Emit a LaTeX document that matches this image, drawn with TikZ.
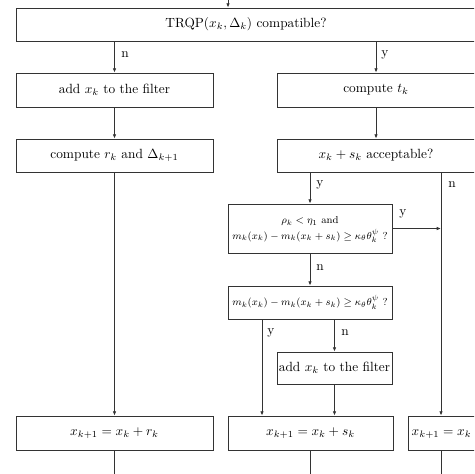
\documentclass[tikz,border=0pt]{standalone}
\usepackage{fontspec}
\usepackage{graphicx}
\usetikzlibrary{arrows.meta}
\newcommand{\condtext}[1]{\scalebox{0.95}{\def\arraystretch{1.25}\begin{tabular}{@{}c@{}}#1\end{tabular}}}
\begin{document}
\begin{tikzpicture}[x=0.75pt,y=-0.75pt,
  box/.style={draw=black!80,line width=0.6pt,rectangle,inner sep=0pt,align=center},
  arr/.style={draw=black!80,line width=0.6pt,-{Latex[length=3.2pt,width=2.6pt]}},
  ln/.style={draw=black!80,line width=0.6pt},
  lab/.style={inner sep=0pt,font=\normalsize}]
\useasboundingbox (0,0) rectangle (474,474);
\clip (0,0) rectangle (474,474);
% nodes
\node[box,minimum width=345pt,minimum height=24.75pt] (trqp) at (246,24.5) {TRQP$(x_k,\Delta_k)$ compatible?};
\node[box,minimum width=147.75pt,minimum height=25.5pt] (add1) at (114.5,90) {add $x_k$ to the filter};
\node[box,minimum width=148.5pt,minimum height=25.5pt] (comptk) at (376,90) {compute $t_k$};
\node[box,minimum width=147.75pt,minimum height=24.75pt] (comprk) at (114.5,155.5) {compute $r_k$ and $\Delta_{k+1}$};
\node[box,minimum width=148.5pt,minimum height=24.75pt] (accept) at (376,155.5) {$x_k+s_k$ acceptable?};
\node[box,minimum width=123pt,minimum height=36.75pt,font=\footnotesize] (rho) at (310,228.5) {\condtext{$\rho_k<\eta_1$ and\\$m_k(x_k)-m_k(x_k+s_k)\geq\kappa_\theta\theta_k^\psi$ ?}};
\node[box,minimum width=123pt,minimum height=24.75pt,font=\footnotesize] (mcheck) at (310,302.5) {\condtext{$m_k(x_k)-m_k(x_k+s_k)\geq\kappa_\theta\theta_k^\psi$ ?}};
\node[box,minimum width=86.25pt,minimum height=24pt] (add2) at (334.5,368) {add $x_k$ to the filter};
\node[box,minimum width=147.75pt,minimum height=25.5pt] (upd1) at (114.5,433) {$x_{k+1}=x_k+r_k$};
\node[box,minimum width=123.75pt,minimum height=25.5pt] (upd2) at (310.5,433) {$x_{k+1}=x_k+s_k$};
\node[box,anchor=west,minimum height=25.5pt,inner xsep=2.5pt] (upd3) at (408,433) {$x_{k+1}=x_k+s_k$};
% coordinates
\coordinate (top) at (228,0);
\coordinate (nx) at (441,0);
\coordinate (yx) at (262,0);
\coordinate (bot) at (0,480);
% connectors
\draw[arr] (top) -- (trqp.north -| top);
\draw[arr] (trqp.south -| add1.north) -- (add1.north);
\draw[arr] (trqp.south -| comptk.north) -- (comptk.north);
\draw[arr] (add1.south) -- (comprk.north);
\draw[arr] (comptk.south) -- (accept.north);
\draw[arr] (accept.south -| rho.north) -- (rho.north);
\draw[arr] (accept.south -| nx) -- (upd3.north -| nx);
\draw[arr] (rho.east) -- (rho.east -| nx);
\draw[arr] (rho.south) -- (mcheck.north);
\draw[arr] (mcheck.south -| yx) -- (upd2.north -| yx);
\draw[arr] (mcheck.south -| add2.north) -- (add2.north);
\draw[arr] (add2.south) -- (upd2.north -| add2.south);
\draw[arr] (comprk.south) -- (upd1.north);
\draw[ln] (upd1.south) -- (upd1.south |- bot);
\draw[ln] (upd2.south) -- (upd2.south |- bot);
\draw[ln] (upd3.south -| nx) -- (nx |- bot);
% labels
\node[lab] (l1) at (125,55) {n};
\node[lab] (l2) at (385,55) {y};
\node[lab] (l3) at (320,185) {y};
\node[lab] (l4) at (452,185) {n};
\node[lab] (l5) at (403,214) {y};
\node[lab] (l6) at (320,268) {n};
\node[lab] (l7) at (271,333) {y};
\node[lab] (l8) at (345,333) {n};
\end{tikzpicture}
\end{document}
